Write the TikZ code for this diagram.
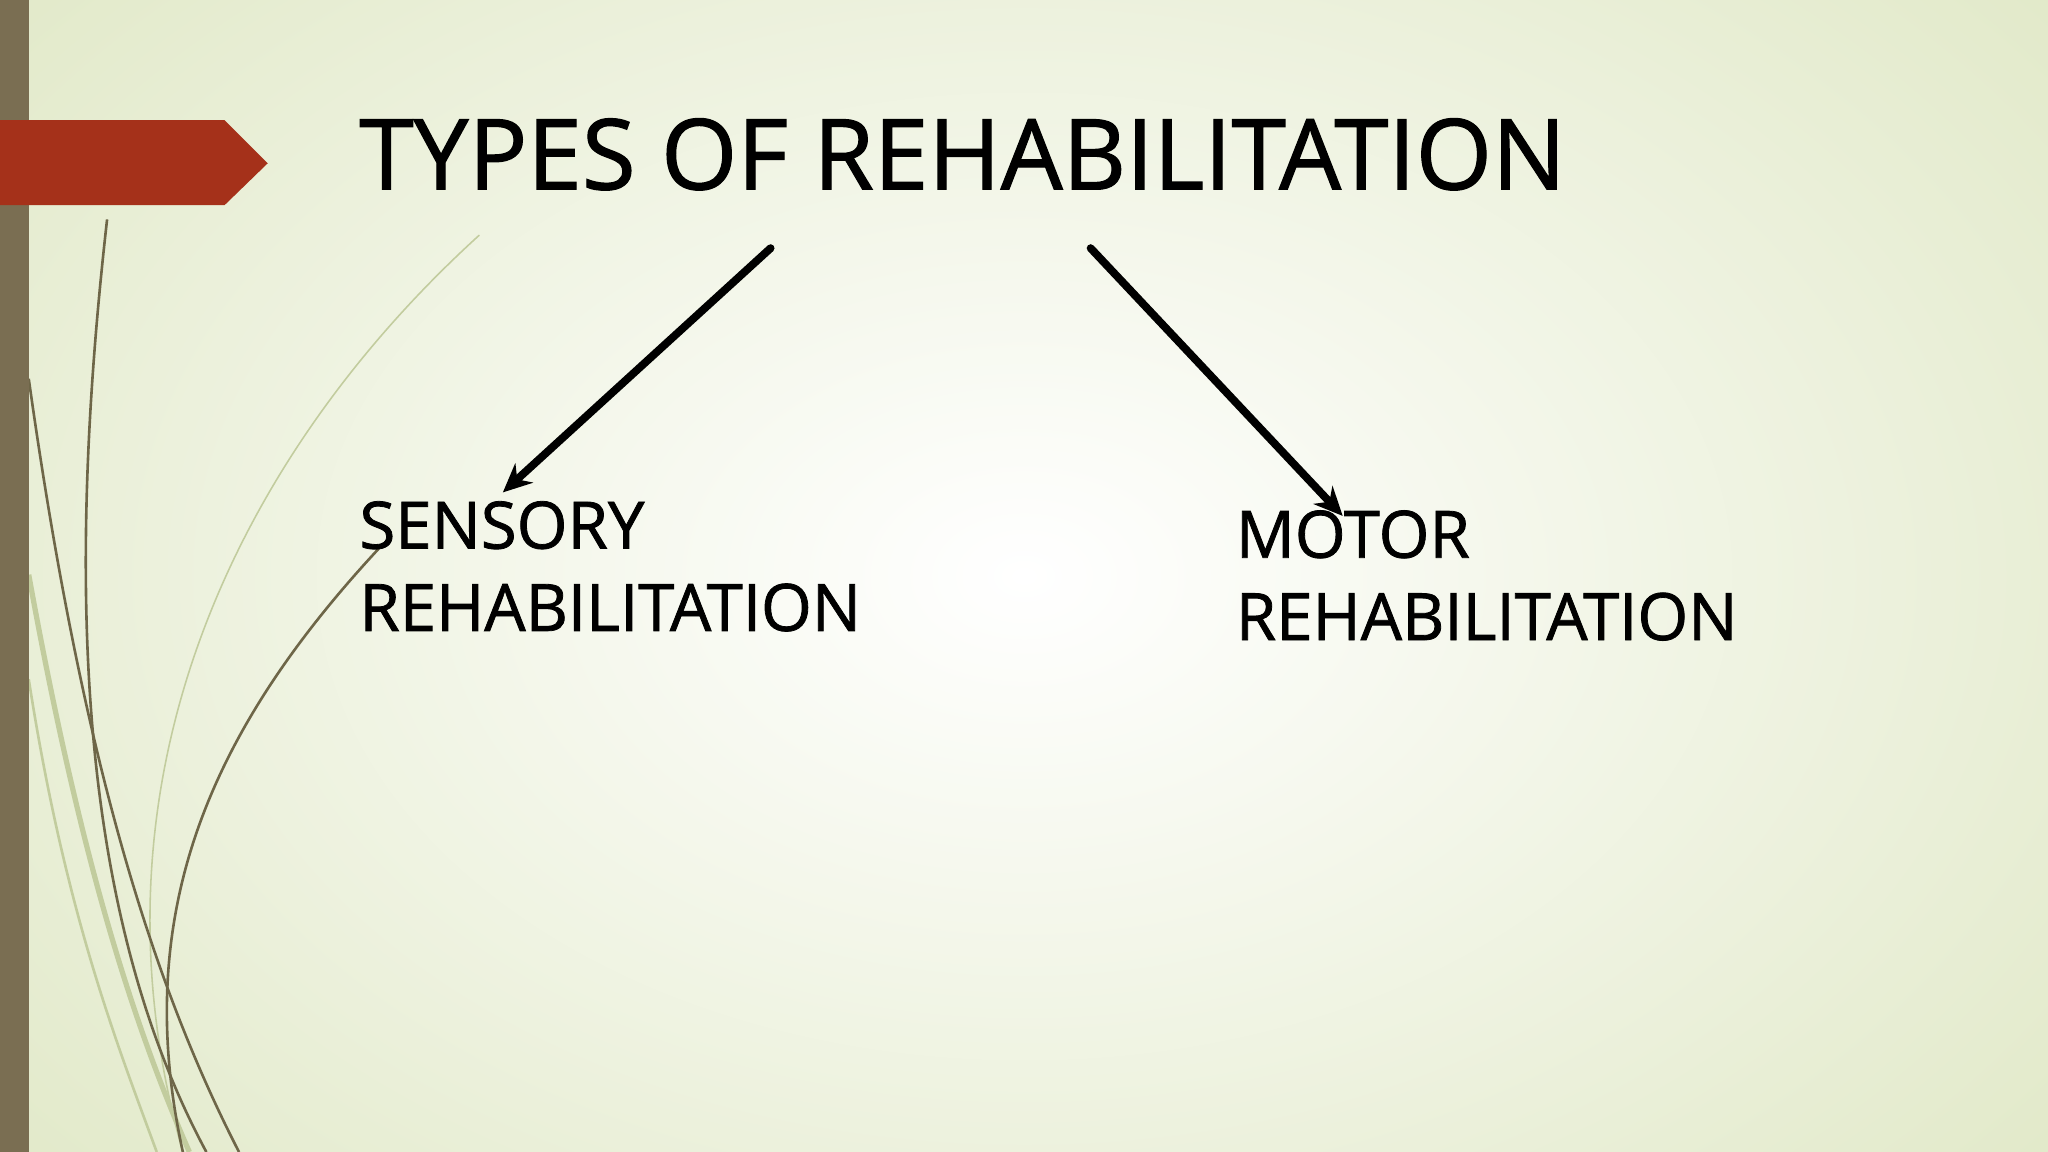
\documentclass[tikz,border=0pt]{standalone}
\usepackage{fontspec}
\setmainfont{Open Sans}[FakeBold=1.2]
\usetikzlibrary{arrows.meta}
\definecolor{edgegreen}{HTML}{E0E8C6}
\definecolor{barbrown}{HTML}{7A6E52}
\definecolor{tabred}{HTML}{A5311A}
\definecolor{curveA}{HTML}{6E6648}
\definecolor{curveB}{HTML}{C2CC9E}
\tikzset{
  conn/.style={line width=6pt, line cap=round, -{Stealth[length=22pt,width=20pt]}},
  big/.style={anchor=base west, inner sep=0pt, font=\fontsize{75}{90}\selectfont},
  mid/.style={anchor=base west, inner sep=0pt, align=left, font=\fontsize{50}{63}\selectfont},
}
\begin{document}
\begin{tikzpicture}[x=1pt,y=-1pt]
\useasboundingbox (0,0) rectangle (1568,882);
\shade[inner color=white, outer color=edgegreen] (-300,-300) rectangle (1868,1182);
% curves
\draw[curveB, line width=1.2pt] (367,180) .. controls (180,350) and (60,600) .. (140,882);
\draw[curveB, line width=4pt] (22,440) .. controls (60,650) and (100,780) .. (145,882);
\draw[curveB, line width=2pt] (22,520) .. controls (50,700) and (90,800) .. (120,882);
\draw[curveA, line width=2pt] (82,168) .. controls (50,450) and (60,700) .. (158,882);
\draw[curveA, line width=2pt] (22,290) .. controls (60,560) and (110,740) .. (183,882);
\draw[curveA, line width=2pt] (290,420) .. controls (160,560) and (100,700) .. (140,882);
% bar and tab
\fill[barbrown] (0,0) rectangle (22,882);
\fill[tabred] (0,92) -- (172,92) -- (205,125) -- (172,157) -- (0,157) -- cycle;
% texts
\node[big] (title) at (275,145) {TYPES OF REHABILITATION};
\node[mid] (sensory) at (275,483) {SENSORY\\REHABILITATION};
\node[mid] (motor) at (946,490) {MOTOR\\REHABILITATION};
\coordinate (s1) at (590,190);
\coordinate (s2) at (385,377);
\coordinate (m1) at (835,190);
\coordinate (m2) at (1028,395);
\draw[conn] (s1) -- (s2);
\draw[conn] (m1) -- (m2);
\end{tikzpicture}
\end{document}
